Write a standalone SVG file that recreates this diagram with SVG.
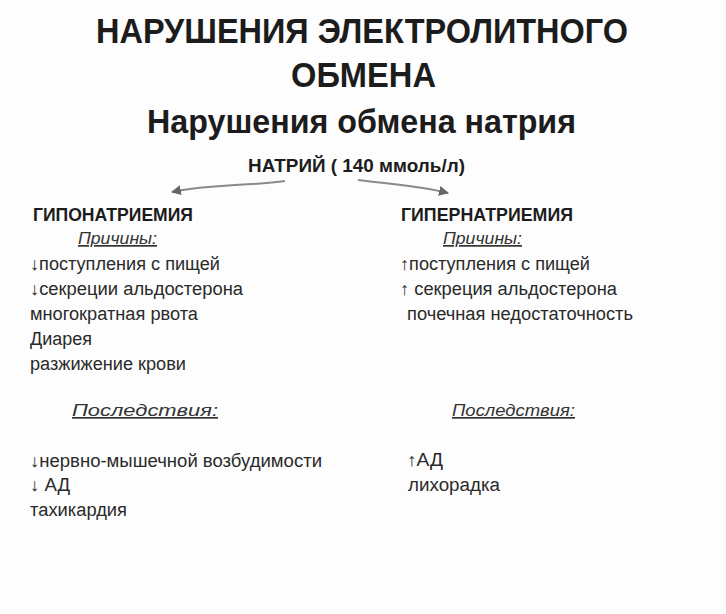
<svg xmlns="http://www.w3.org/2000/svg" width="726" height="614" viewBox="0 0 726 614">
<defs>
<style>
text{font-family:"Liberation Sans",Arial,sans-serif;fill:#1c1c1c}
.t1{font-size:35px;font-weight:bold}
.t2{font-size:34px;font-weight:bold}
.hd{font-size:18px;font-weight:bold}
.it{font-size:17px;font-style:italic;text-decoration:underline;fill:#333}
.ln{font-size:18px;fill:#2a2a2a}
.con{fill:none;stroke:#8a8a8a;stroke-width:2}
</style>
<marker id="ah" viewBox="0 0 10 10" refX="9" refY="5" markerWidth="5" markerHeight="5" orient="auto-start-reverse">
<path d="M0,0 L10,5 L0,10 z" fill="#666"/>
</marker>
</defs>
<rect width="726" height="614" fill="#fdfdfd"/>
<g id="title">
<text class="t1" x="96" y="43" textLength="532" lengthAdjust="spacingAndGlyphs">НАРУШЕНИЯ ЭЛЕКТРОЛИТНОГО</text>
<text class="t1" x="291" y="87" textLength="145" lengthAdjust="spacingAndGlyphs">ОБМЕНА</text>
<text class="t2" x="147" y="133" textLength="429" lengthAdjust="spacingAndGlyphs">Нарушения обмена натрия</text>
</g>
<g id="sodium">
<text class="hd" x="248" y="172" textLength="217" lengthAdjust="spacingAndGlyphs">НАТРИЙ ( 140 ммоль/л)</text>
</g>
<g id="connectors">
<path class="con" d="M285,181 C250,186 210,184 172,192" marker-end="url(#ah)"/>
<path class="con" d="M358,180 C390,184 420,186 448,193" marker-end="url(#ah)"/>
</g>
<g id="hypo">
<text class="hd" x="33" y="221" textLength="160" lengthAdjust="spacingAndGlyphs">ГИПОНАТРИЕМИЯ</text>
<text class="it" x="78" y="244" textLength="79" lengthAdjust="spacingAndGlyphs">Причины:</text>
<text class="ln" x="30" y="270" textLength="190" lengthAdjust="spacingAndGlyphs">↓поступления с пищей</text>
<text class="ln" x="30" y="295" textLength="213" lengthAdjust="spacingAndGlyphs">↓секреции альдостерона</text>
<text class="ln" x="30" y="320" textLength="168" lengthAdjust="spacingAndGlyphs">многократная рвота</text>
<text class="ln" x="30" y="345" textLength="62" lengthAdjust="spacingAndGlyphs">Диарея</text>
<text class="ln" x="30" y="370" textLength="156" lengthAdjust="spacingAndGlyphs">разжижение крови</text>
<text class="it" x="72" y="416" textLength="146" lengthAdjust="spacingAndGlyphs">Последствия:</text>
<text class="ln" x="30" y="467" textLength="292" lengthAdjust="spacingAndGlyphs">↓нервно-мышечной возбудимости</text>
<text class="ln" x="30" y="491" textLength="40" lengthAdjust="spacingAndGlyphs">↓ АД</text>
<text class="ln" x="30" y="516" textLength="97" lengthAdjust="spacingAndGlyphs">тахикардия</text>
</g>
<g id="hyper">
<text class="hd" x="401" y="221" textLength="172" lengthAdjust="spacingAndGlyphs">ГИПЕРНАТРИЕМИЯ</text>
<text class="it" x="443" y="244" textLength="79" lengthAdjust="spacingAndGlyphs">Причины:</text>
<text class="ln" x="400" y="270" textLength="190" lengthAdjust="spacingAndGlyphs">↑поступления с пищей</text>
<text class="ln" x="400" y="295" textLength="217" lengthAdjust="spacingAndGlyphs">↑ секреция альдостерона</text>
<text class="ln" x="407" y="320" textLength="226" lengthAdjust="spacingAndGlyphs">почечная недостаточность</text>
<text class="it" x="452" y="416" textLength="123" lengthAdjust="spacingAndGlyphs">Последствия:</text>
<text class="ln" x="407" y="466" textLength="36" lengthAdjust="spacingAndGlyphs">↑АД</text>
<text class="ln" x="408" y="491" textLength="92" lengthAdjust="spacingAndGlyphs">лихорадка</text>
</g>
</svg>
